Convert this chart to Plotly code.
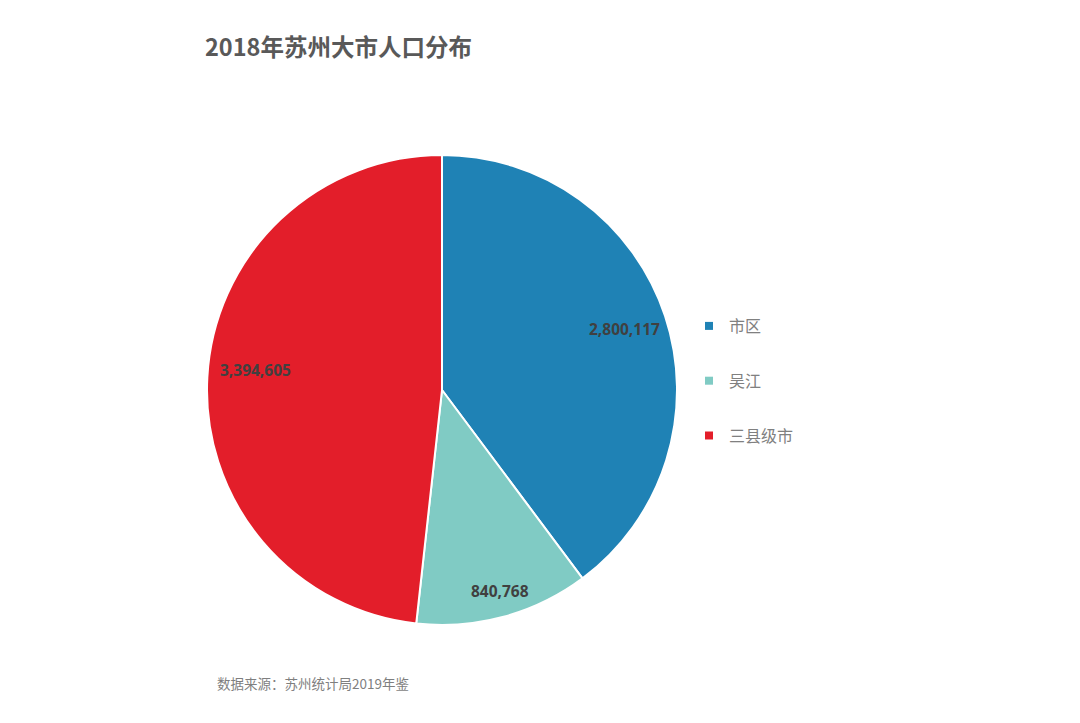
import math
import plotly.graph_objects as go

categories = ["市区", "吴江", "三县级市"]
values = [2800117, 840768, 3394605]
colors = ["#1f82b5", "#80cbc4", "#e31e2a"]
title_text = "2018年苏州大市人口分布"
source_text = "数据来源：苏州统计局2019年鉴"

W, H = 1080, 723
CJK = "Noto Sans CJK SC, Microsoft YaHei, sans-serif"

# pie geometry (pixels) and label placement (fraction of radius, angular nudge in degrees)
cx, cy, R = 442, 390, 235
label_r = [0.82, 0.89, 0.80]
label_nudge = [0.0, -1.0, 3.0]

fig = go.Figure()
fig.add_trace(go.Pie(
    labels=categories, values=values, sort=False, direction="clockwise",
    rotation=0,
    marker=dict(colors=colors, line=dict(color="white", width=2)),
    textinfo="none",
    domain=dict(x=[(cx - R) / W, (cx + R) / W], y=[1 - (cy + R) / H, 1 - (cy - R) / H]),
    showlegend=False, hoverinfo="label+value+percent",
))

# value labels at each slice's mid-angle, computed from the data
total = sum(values)
annotations = []
cum = 0
for v, rf, nd in zip(values, label_r, label_nudge):
    mid = (cum + v / 2) / total * 2 * math.pi + math.radians(nd)
    cum += v
    px = cx + R * rf * math.sin(mid)
    py = cy - R * rf * math.cos(mid)
    annotations.append(dict(
        text=f"{v:,}", x=px / W, y=1 - py / H, xref="paper", yref="paper",
        xanchor="center", yanchor="middle", showarrow=False,
        font=dict(family="Open Sans, Liberation Sans, sans-serif", size=15.5,
                  color="#404040", weight="bold")))

annotations.append(dict(text=source_text, x=215 / W, y=1 - 683 / H, xref="paper", yref="paper",
                        xanchor="left", yanchor="middle", showarrow=False,
                        font=dict(family=CJK, size=13.5, color="#7f7f7f")))

# legend entries (separate traces so spacing can be set)
for name, c in zip(categories, colors):
    fig.add_trace(go.Scatter(
        x=[None], y=[None], mode="markers", name=name, legendgroup=name,
        marker=dict(symbol="square", size=8, color=c),
        showlegend=True,
    ))

fig.update_layout(
    width=W, height=H,
    margin=dict(l=0, r=0, t=0, b=0),
    paper_bgcolor="white", plot_bgcolor="white",
    xaxis=dict(visible=False), yaxis=dict(visible=False),
    title=dict(text=title_text, x=205 / W, xanchor="left", y=1 - 48 / H, yanchor="middle",
               font=dict(family=CJK, size=23.5, color="#595959", weight="bold")),
    legend=dict(x=689 / W, xanchor="left", y=1 - 309 / H, yanchor="top",
                font=dict(family=CJK, size=16, color="#808080"),
                tracegroupgap=31, bgcolor="rgba(0,0,0,0)"),
    annotations=annotations,
)

fig.write_html("out.html")
